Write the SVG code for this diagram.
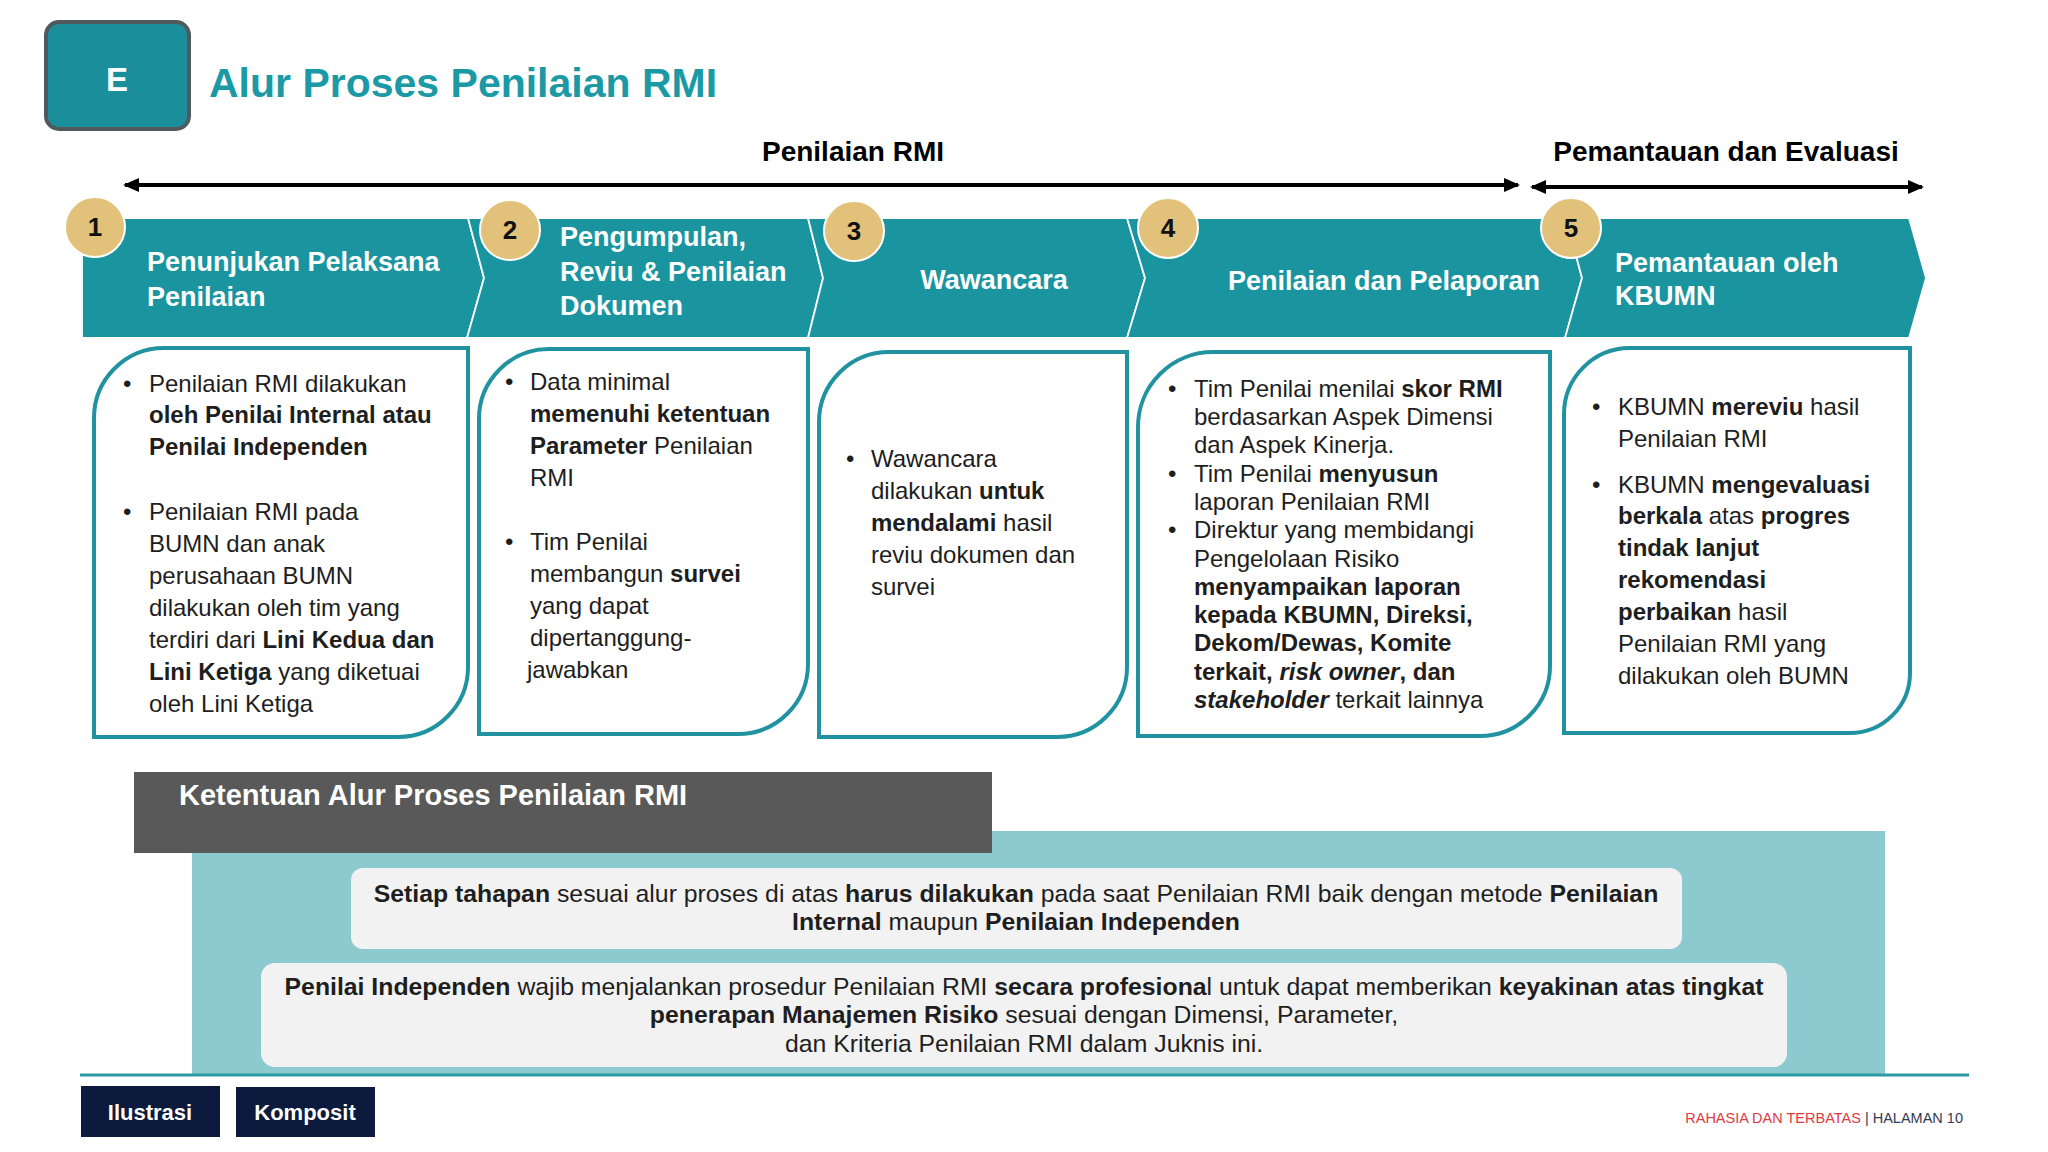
<svg xmlns="http://www.w3.org/2000/svg" width="2048" height="1152" viewBox="0 0 2048 1152">
<style>
text{font-family:"Liberation Sans",Arial,sans-serif}
.seg{fill:#1a95a0;stroke:#ffffff;stroke-width:1.8}
.num{fill:#e2c27b;stroke:#ffffff;stroke-width:2}
.numt{font-size:26px;font-weight:bold;fill:#111;text-anchor:middle}
.bt{font-size:27px;font-weight:bold;fill:#ffffff}
.box{fill:#ffffff;stroke:#2193a0;stroke-width:4}
.tx{font-size:24px;fill:#1e1e1e}
.b{font-weight:bold}
.bi{font-weight:bold;font-style:italic}
.lbl{font-size:28px;font-weight:bold;fill:#000;text-anchor:middle}
.arr{stroke:#000;stroke-width:4;fill:none}
.note{font-size:24.8px;fill:#1e1e1e;text-anchor:middle}
.btn{fill:#0b1a3d}
.btnt{font-size:22px;font-weight:bold;fill:#fff;text-anchor:middle}
</style>
<defs>
<marker id="ah" markerUnits="userSpaceOnUse" markerWidth="16" markerHeight="14" refX="14" refY="7" orient="auto-start-reverse">
<path d="M0,0 L16,7 L0,14 Z" fill="#000"/>
</marker>
</defs>
<rect width="2048" height="1152" fill="#ffffff"/>

<g id="header">
<rect x="46" y="22" width="143" height="107" rx="13" fill="#1a8f9b" stroke="#50595d" stroke-width="4"/>
<text x="117" y="91" font-size="33" font-weight="bold" fill="#fff" text-anchor="middle">E</text>
<text x="209" y="97" font-size="41" font-weight="bold" fill="#1b9aa6">Alur Proses Penilaian RMI</text>
</g>

<g id="connectors">
<line class="arr" x1="125" y1="185" x2="1518" y2="185" marker-start="url(#ah)" marker-end="url(#ah)"/>
<line class="arr" x1="1532" y1="187" x2="1922" y2="187" marker-start="url(#ah)" marker-end="url(#ah)"/>
</g>
<g id="phase-labels">
<text class="lbl" x="853" y="161">Penilaian RMI</text>
<text class="lbl" x="1726" y="161">Pemantauan dan Evaluasi</text>
</g>

<g id="step1">
<polygon class="seg" points="82,218 468,218 484,278 467,338 82,338"/>
<circle class="num" cx="95" cy="227" r="30"/>
<text class="numt" x="95" y="236">1</text>
<text class="bt" x="147" y="271">Penunjukan Pelaksana</text>
<text class="bt" x="147" y="306">Penilaian</text>
<path class="box" d="M164,348 H468 V667 A70,70 0 0 1 398,737 H94 V418 A70,70 0 0 1 164,348 Z"/>
<g class="tx">
<text x="123" y="392">•</text><text x="149" y="392">Penilaian RMI dilakukan</text>
<text x="149" y="423" class="b">oleh Penilai Internal atau</text>
<text x="149" y="455" class="b">Penilai Independen</text>
<text x="123" y="520">•</text><text x="149" y="520">Penilaian RMI pada</text>
<text x="149" y="552">BUMN dan anak</text>
<text x="149" y="584">perusahaan BUMN</text>
<text x="149" y="616">dilakukan oleh tim yang</text>
<text x="149" y="648">terdiri dari <tspan class="b">Lini Kedua dan</tspan></text>
<text x="149" y="680"><tspan class="b">Lini Ketiga</tspan> yang diketuai</text>
<text x="149" y="712">oleh Lini Ketiga</text>
</g>
</g>

<g id="step2">
<polygon class="seg" points="468,218 808,218 823,278 808,338 467,338 484,278"/>
<circle class="num" cx="510" cy="230" r="30"/>
<text class="numt" x="510" y="239">2</text>
<text class="bt" x="560" y="246">Pengumpulan,</text>
<text class="bt" x="560" y="281">Reviu &amp; Penilaian</text>
<text class="bt" x="560" y="315">Dokumen</text>
<path class="box" d="M549,349 H808 V664 A70,70 0 0 1 738,734 H479 V419 A70,70 0 0 1 549,349 Z"/>
<g class="tx">
<text x="505" y="390">•</text><text x="530" y="390">Data minimal</text>
<text x="530" y="422" class="b">memenuhi ketentuan</text>
<text x="530" y="454"><tspan class="b">Parameter</tspan> Penilaian</text>
<text x="530" y="486">RMI</text>
<text x="505" y="550">•</text><text x="530" y="550">Tim Penilai</text>
<text x="530" y="582">membangun <tspan class="b">survei</tspan></text>
<text x="530" y="614">yang dapat</text>
<text x="530" y="646">dipertanggung-</text>
<text x="527" y="678">jawabkan</text>
</g>
</g>

<g id="step3">
<polygon class="seg" points="808,218 1127,218 1145,278 1127,338 808,338 823,278"/>
<circle class="num" cx="854" cy="231" r="30"/>
<text class="numt" x="854" y="240">3</text>
<text class="bt" x="994" y="289" text-anchor="middle">Wawancara</text>
<path class="box" d="M889,352 H1127 V667 A70,70 0 0 1 1057,737 H819 V422 A70,70 0 0 1 889,352 Z"/>
<g class="tx">
<text x="846" y="467">•</text><text x="871" y="467">Wawancara</text>
<text x="871" y="499">dilakukan <tspan class="b">untuk</tspan></text>
<text x="871" y="531"><tspan class="b">mendalami</tspan> hasil</text>
<text x="871" y="563">reviu dokumen dan</text>
<text x="871" y="595">survei</text>
</g>
</g>

<g id="step4">
<polygon class="seg" points="1127,218 1566,218 1582,278 1565,338 1127,338 1145,278"/>
<circle class="num" cx="1168" cy="228" r="30"/>
<text class="numt" x="1168" y="237">4</text>
<text class="bt" x="1384" y="290" text-anchor="middle">Penilaian dan Pelaporan</text>
<path class="box" d="M1213,352 H1550 V666 A70,70 0 0 1 1480,736 H1138 V427 A75,75 0 0 1 1213,352 Z"/>
<g class="tx">
<text x="1168" y="397">•</text><text x="1194" y="397">Tim Penilai menilai <tspan class="b">skor RMI</tspan></text>
<text x="1194" y="425">berdasarkan Aspek Dimensi</text>
<text x="1194" y="453">dan Aspek Kinerja.</text>
<text x="1168" y="482">•</text><text x="1194" y="482">Tim Penilai <tspan class="b">menyusun</tspan></text>
<text x="1194" y="510">laporan Penilaian RMI</text>
<text x="1168" y="538">•</text><text x="1194" y="538">Direktur yang membidangi</text>
<text x="1194" y="567">Pengelolaan Risiko</text>
<text x="1194" y="595" class="b">menyampaikan laporan</text>
<text x="1194" y="623" class="b">kepada KBUMN, Direksi,</text>
<text x="1194" y="651" class="b">Dekom/Dewas, Komite</text>
<text x="1194" y="680" class="b">terkait, <tspan class="bi">risk owner</tspan>, dan</text>
<text x="1194" y="708"><tspan class="bi">stakeholder</tspan> terkait lainnya</text>
</g>
</g>

<g id="step5">
<polygon class="seg" points="1566,218 1909,218 1926,278 1909,338 1565,338 1582,278"/>
<circle class="num" cx="1571" cy="228" r="30"/>
<text class="numt" x="1571" y="237">5</text>
<text class="bt" x="1615" y="272">Pemantauan oleh</text>
<text class="bt" x="1615" y="305">KBUMN</text>
<path class="box" d="M1630,348 H1910 V673 A60,60 0 0 1 1850,733 H1564 V414 A66,66 0 0 1 1630,348 Z"/>
<g class="tx">
<text x="1592" y="415">•</text><text x="1618" y="415">KBUMN <tspan class="b">mereviu</tspan> hasil</text>
<text x="1618" y="447">Penilaian RMI</text>
<text x="1592" y="493">•</text><text x="1618" y="493">KBUMN <tspan class="b">mengevaluasi</tspan></text>
<text x="1618" y="524"><tspan class="b">berkala</tspan> atas <tspan class="b">progres</tspan></text>
<text x="1618" y="556" class="b">tindak lanjut</text>
<text x="1618" y="588" class="b">rekomendasi</text>
<text x="1618" y="620"><tspan class="b">perbaikan</tspan> hasil</text>
<text x="1618" y="652">Penilaian RMI yang</text>
<text x="1618" y="684">dilakukan oleh BUMN</text>
</g>
</g>

<g id="ketentuan">
<rect x="192" y="831" width="1693" height="244" fill="#8dcad0"/>
<rect x="134" y="772" width="858" height="81" fill="#595959"/>
<text x="179" y="805" font-size="29" font-weight="bold" fill="#fff">Ketentuan Alur Proses Penilaian RMI</text>
<rect x="351" y="868" width="1331" height="81" rx="12" fill="#f2f2f2"/>
<text class="note" x="1016" y="902"><tspan class="b">Setiap tahapan</tspan> sesuai alur proses di atas <tspan class="b">harus dilakukan</tspan> pada saat Penilaian RMI baik dengan metode <tspan class="b">Penilaian</tspan></text>
<text class="note" x="1016" y="930"><tspan class="b">Internal</tspan> maupun <tspan class="b">Penilaian Independen</tspan></text>
<rect x="261" y="963" width="1526" height="104" rx="14" fill="#f2f2f2"/>
<text class="note" x="1024" y="995"><tspan class="b">Penilai Independen</tspan> wajib menjalankan prosedur Penilaian RMI <tspan class="b">secara profesiona</tspan>l untuk dapat memberikan <tspan class="b">keyakinan atas tingkat</tspan></text>
<text class="note" x="1024" y="1023"><tspan class="b">penerapan Manajemen Risiko</tspan> sesuai dengan Dimensi, Parameter,</text>
<text class="note" x="1024" y="1052">dan Kriteria Penilaian RMI dalam Juknis ini.</text>
</g>

<g id="footer">
<line x1="80" y1="1075" x2="1969" y2="1075" stroke="#2a9aa5" stroke-width="3"/>
<rect class="btn" x="81" y="1086" width="139" height="51"/>
<text class="btnt" x="150" y="1120">Ilustrasi</text>
<rect class="btn" x="236" y="1087" width="139" height="50"/>
<text class="btnt" x="305" y="1120">Komposit</text>
<text x="1963" y="1123" font-size="14.5" text-anchor="end"><tspan fill="#e03a45">RAHASIA DAN TERBATAS</tspan><tspan fill="#333a55">  |  HALAMAN 10</tspan></text>
</g>
</svg>
